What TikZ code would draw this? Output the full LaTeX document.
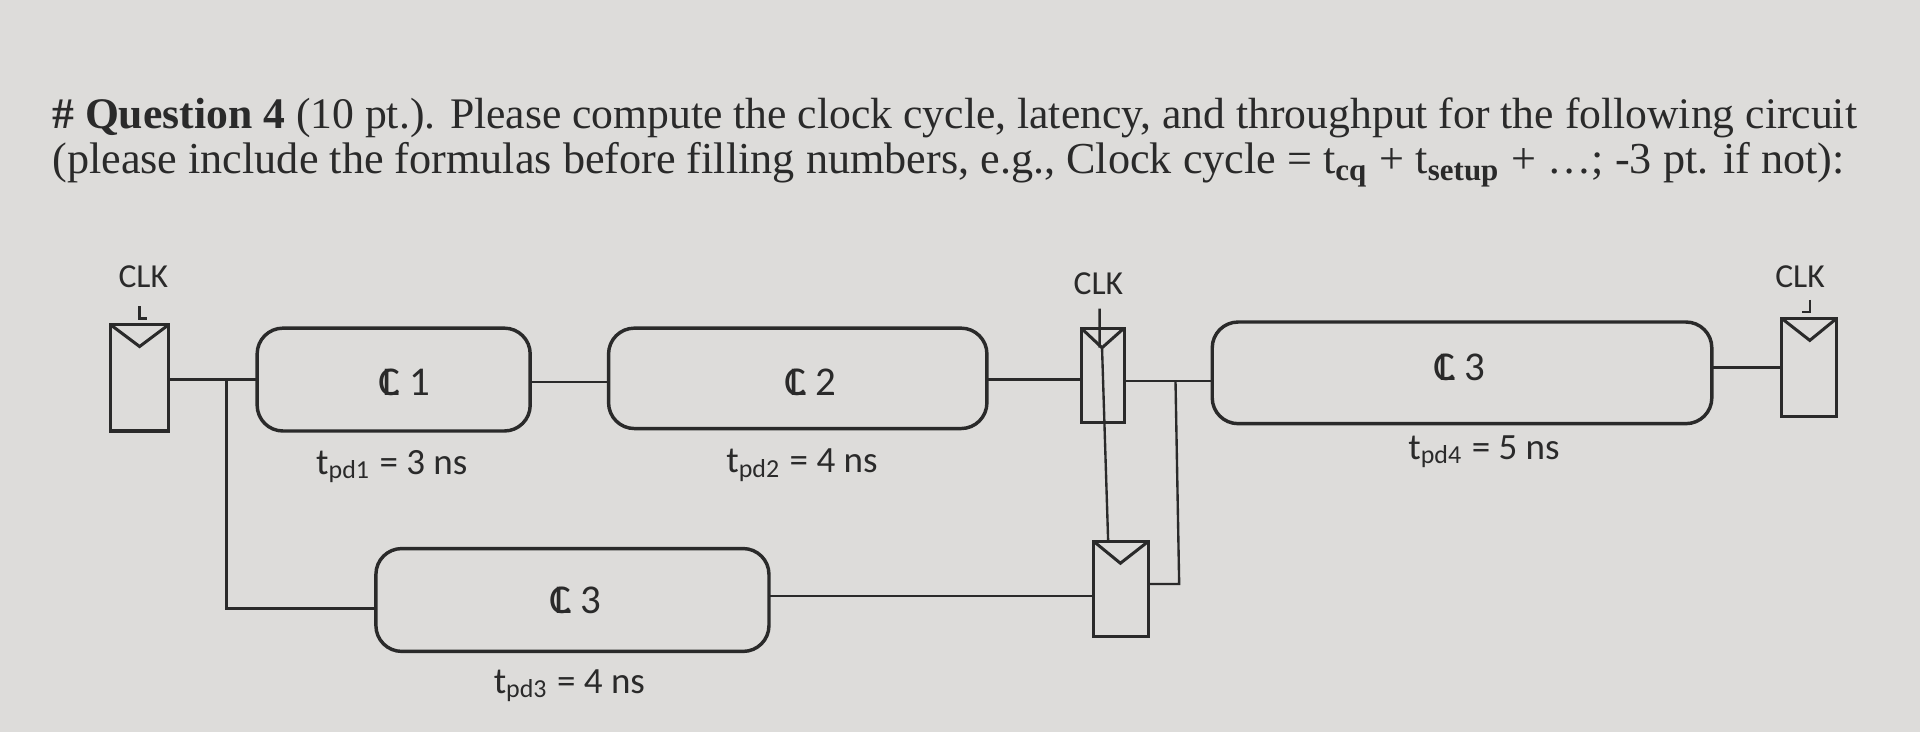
\documentclass[tikz,border=0pt]{standalone}
\usepackage{fontspec}
\setmainfont{Liberation Serif}
\newfontfamily\dfont{Carlito}
\definecolor{paper}{HTML}{DDDCDA}
\definecolor{ink}{HTML}{2A2A2A}
\newcommand{\CLsym}{\rlap{C}\hspace{0.12em}L}
\begin{document}
\begin{tikzpicture}[x=0.01cm,y=-0.01cm,
  wire/.style={draw=ink,line width=0.55pt},
  clbox/.style={draw=ink,line width=0.8pt,rounded corners=6pt,inner sep=0},
  reg/.style={draw=ink,line width=0.7pt},
  lbl/.style={text=ink,font=\dfont\fontsize{8.6}{9}\selectfont},
  cll/.style={text=ink,font=\dfont\fontsize{9.5}{10}\selectfont},
  clk/.style={text=ink,font=\dfont\fontsize{7.8}{8}\selectfont}]
\fill[paper] (0,0) rectangle (1568,598);
\useasboundingbox (0,0) rectangle (1568,598);
% title
\node[anchor=base west,inner sep=0,text=ink] (t1) at (42,105) {\resizebox{14.73cm}{!}{\textbf{\# Question 4} (10 pt.). Please compute the clock cycle, latency, and throughput for the following circuit}};
\node[anchor=base west,inner sep=0,text=ink] (t2) at (42,142) {\resizebox{14.63cm}{!}{(please include the formulas before filling numbers, e.g., Clock cycle = t\textsubscript{\textbf{cq}} + t\textsubscript{\textbf{setup}} + \dots; -3 pt. if not):}};
% registers
\draw[reg] (90,265) rectangle (138,352);
\draw[reg] (90,265) -- (114,283) -- (138,265);
\draw[reg] (883,268) rectangle (918,345);
\draw[reg] (883,268) -- (900,284) -- (918,268);
\draw[reg] (893,442) rectangle (938,520);
\draw[reg] (893,442) -- (915,460) -- (938,442);
\draw[reg] (1455,260) rectangle (1500,340);
\draw[reg] (1455,260) -- (1478,278) -- (1500,260);
% CLK labels
\node[clk] (c1) at (117,226) {CLK};
\node[clk] (c2) at (897,232) {CLK};
\node[clk] (c3) at (1470,226) {CLK};
\draw[wire] (114,250) -- (114,260) -- (120,260);
\draw[wire] (898,252) -- (898,284) (900,284) -- (905,442);
\draw[wire] (1478,245) -- (1478,255) -- (1472,255);
% CL boxes
\draw[clbox] (210,268) rectangle (433,352);
\draw[clbox] (497,268) rectangle (806,350);
\draw[clbox] (990,263) rectangle (1398,346);
\draw[clbox] (307,448) rectangle (628,532);
\node[cll] (n1) at (330,312) {\CLsym\ 1};
\node[cll] (n2) at (662,312) {\CLsym\ 2};
\node[cll] (n4) at (1192,300) {\CLsym\ 3};
\node[cll] (n3) at (470,490) {\CLsym\ 3};
\node[lbl] (p1) at (320,381) {t\textsubscript{pd1} = 3 ns};
\node[lbl] (p2) at (655,380) {t\textsubscript{pd2} = 4 ns};
\node[lbl] (p4) at (1212,369) {t\textsubscript{pd4} = 5 ns};
\node[lbl] (p3) at (465,560) {t\textsubscript{pd3} = 4 ns};
% wires
\draw[wire] (138,310) -- (210,310);
\draw[wire] (185,310) -- (185,497) -- (307,497);
\draw[wire] (433,312) -- (497,312);
\draw[wire] (806,310) -- (883,310);
\draw[wire] (918,311) -- (990,311);
\draw[wire] (960,311) -- (963,477) -- (938,477);
\draw[wire] (628,487) -- (893,487);
\draw[wire] (1398,300) -- (1455,300);
\end{tikzpicture}
\end{document}
